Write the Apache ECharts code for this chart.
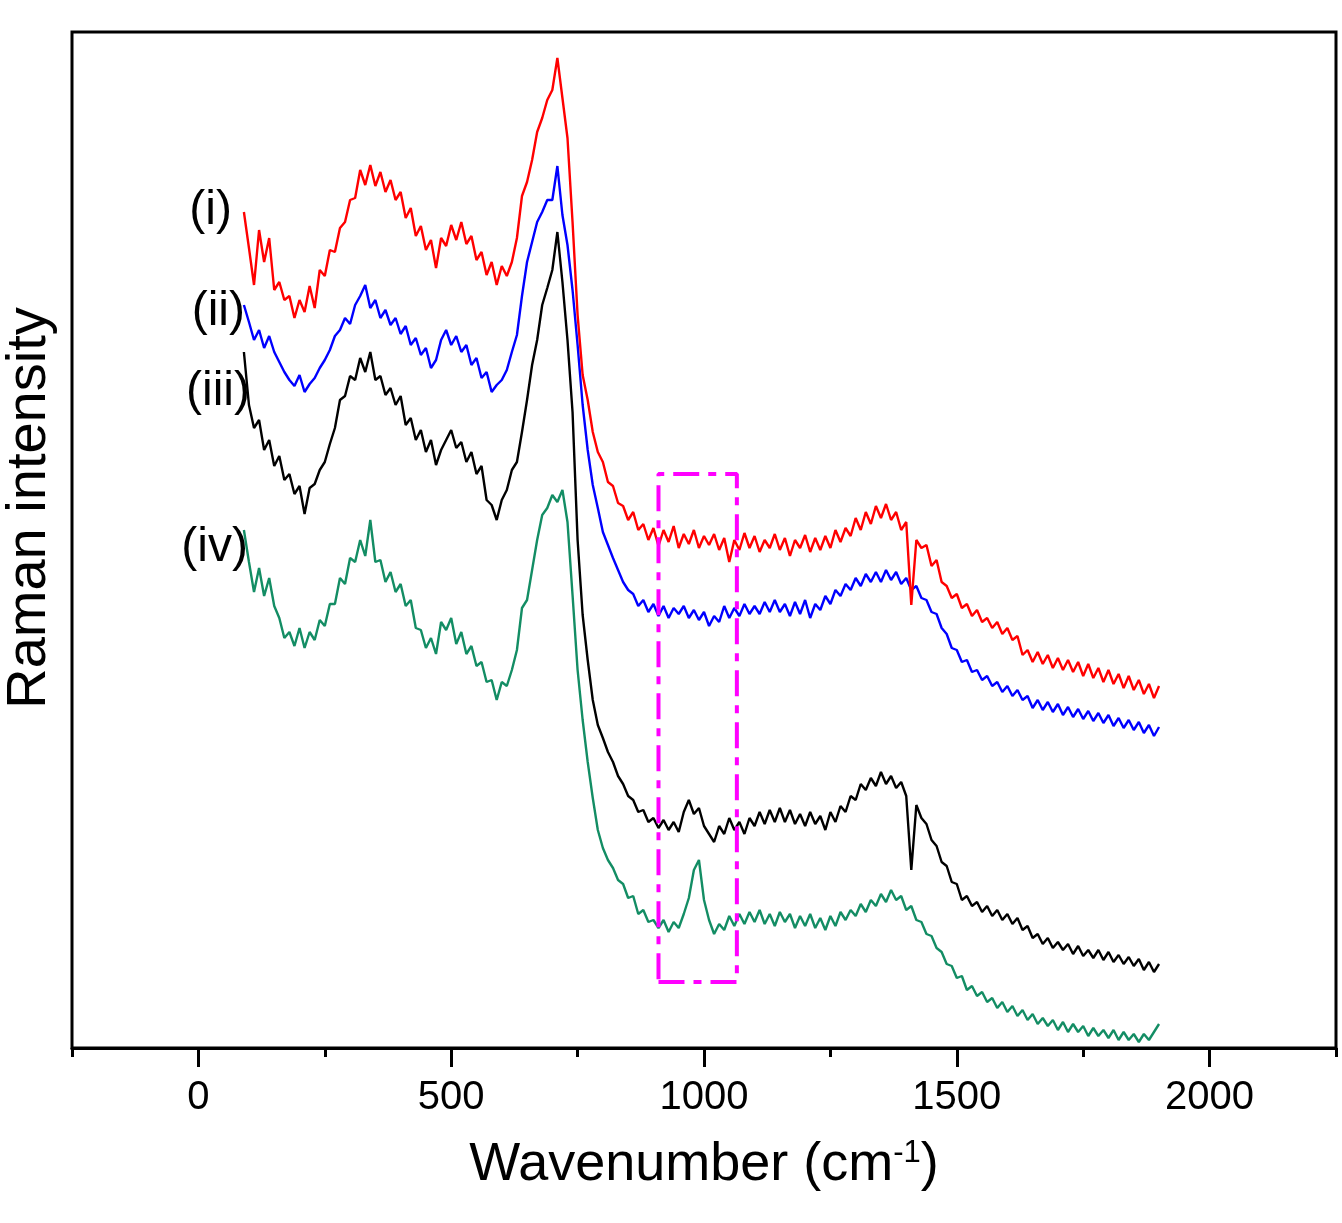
<!DOCTYPE html>
<html>
<head>
<meta charset="utf-8">
<script src="https://cdn.jsdelivr.net/npm/echarts@6/dist/echarts.min.js"></script>
<style>
  html, body { margin: 0; padding: 0; background: #fff; }
  #box { width: 1342px; height: 1223px; }
</style>
</head>
<body>
<div id="box"></div>
<script>
// wavenumber grid: spectra sampled every 10 cm-1 from 90 to 1900
const wnStart = 90;
const wnStep = 10;

// intensities (arbitrary units), one value per grid point
const specI = [
  836, 800, 763, 818, 786, 810, 758, 766, 748, 752,
  730, 748, 736, 762, 740, 778, 772, 798, 796, 820,
  826, 848, 850, 878, 863, 883, 862, 876, 856, 868,
  848, 856, 830, 840, 812, 822, 798, 808, 780, 810,
  802, 823, 808, 826, 804, 812, 788, 796, 773, 786,
  763, 782, 772, 786, 810, 852, 866, 888, 916, 930,
  948, 958, 990, 950, 910, 826, 733, 673, 648, 616,
  596, 586, 566, 562, 545, 542, 528, 536, 518, 524,
  508, 520, 502, 518, 506, 522, 500, 514, 504, 518,
  500, 512, 503, 514, 498, 510, 486, 508, 498, 515,
  500, 512, 496, 508, 500, 514, 498, 510, 492, 508,
  500, 513, 496, 510, 498, 512, 500, 518, 506, 520,
  512, 530, 518, 536, 524, 542, 530, 544, 528, 536,
  518, 526, 443, 508, 500, 503, 482, 488, 466, 462,
  450, 454, 440, 444, 432, 438, 426, 430, 420, 426,
  414, 420, 408, 412, 393, 398, 386, 396, 384, 393,
  380, 390, 378, 388, 376, 386, 372, 384, 370, 380,
  366, 378, 364, 374, 360, 372, 358, 368, 354, 364,
  350, 362
];
const specII = [
  743, 726, 708, 718, 700, 712, 696, 686, 676, 668,
  662, 673, 656, 664, 670, 680, 688, 698, 712, 718,
  730, 724, 743, 752, 763, 740, 748, 730, 738, 723,
  730, 714, 722, 703, 710, 693, 700, 680, 688, 708,
  718, 703, 712, 696, 703, 683, 690, 670, 676, 656,
  663, 668, 678, 696, 713, 752, 786, 806, 826, 836,
  848, 848, 882, 833, 803, 758, 703, 643, 598, 563,
  540, 516, 503, 490, 478, 466, 458, 454, 442, 448,
  436, 444, 432, 442, 430, 440, 434, 442, 430, 438,
  428, 436, 422, 432, 426, 442, 430, 440, 432, 444,
  434, 442, 434, 446, 436, 448, 436, 444, 432, 446,
  434, 448, 430, 444, 438, 452, 444, 458, 452, 464,
  458, 470, 462, 474, 466, 476, 466, 478, 468, 476,
  464, 470, 458, 462, 450, 448, 436, 434, 420, 414,
  400, 398, 386, 388, 376, 378, 368, 372, 362, 366,
  356, 362, 352, 358, 348, 352, 340, 348, 338, 346,
  336, 344, 333, 341, 331, 339, 329, 337, 327, 335,
  325, 333, 322, 330, 320, 328, 318, 326, 315, 323,
  312, 321
];
const specIII = [
  696, 643, 620, 628, 598, 608, 582, 592, 568, 574,
  554, 562, 534, 560, 564, 578, 586, 604, 620, 648,
  652, 672, 668, 690, 676, 696, 668, 672, 653, 660,
  643, 652, 623, 630, 608, 618, 596, 608, 583, 598,
  608, 618, 600, 606, 586, 596, 574, 582, 548, 543,
  528, 548, 558, 578, 586, 616, 648, 683, 708, 743,
  760, 778, 816, 766, 708, 636, 508, 433, 388, 348,
  323, 310, 296, 286, 272, 264, 252, 248, 236, 238,
  226, 230, 220, 228, 218, 226, 216, 236, 248, 234,
  240, 222, 214, 206, 222, 214, 230, 218, 226, 214,
  230, 222, 236, 224, 238, 226, 240, 226, 238, 224,
  234, 222, 236, 224, 232, 218, 236, 226, 242, 236,
  252, 248, 264, 258, 270, 262, 276, 264, 272, 260,
  266, 252, 178, 243, 230, 224, 208, 202, 186, 182,
  166, 164, 148, 152, 142, 146, 136, 142, 132, 138,
  128, 134, 124, 130, 118, 122, 110, 114, 104, 110,
  100, 106, 98, 104, 94, 102, 92, 98, 90, 98,
  88, 96, 86, 93, 84, 91, 82, 89, 78, 86,
  76, 84
];
const specIV = [
  518, 486, 456, 480, 452, 470, 442, 430, 410, 416,
  402, 420, 400, 416, 408, 428, 422, 444, 444, 470,
  464, 490, 486, 508, 492, 528, 486, 488, 466, 476,
  456, 464, 442, 448, 420, 418, 400, 410, 394, 426,
  418, 430, 404, 416, 394, 402, 382, 386, 366, 368,
  348, 366, 362, 378, 398, 440, 448, 478, 508, 533,
  540, 553, 546, 558, 526, 453, 378, 328, 286, 250,
  218, 200, 188, 180, 168, 164, 150, 152, 134, 138,
  126, 128, 120, 128, 116, 126, 120, 134, 150, 178,
  188, 148, 128, 114, 124, 118, 132, 122, 134, 124,
  136, 126, 138, 124, 134, 122, 136, 126, 134, 120,
  132, 122, 134, 120, 130, 118, 132, 122, 136, 128,
  138, 132, 144, 136, 148, 142, 154, 146, 158, 148,
  152, 138, 142, 128, 126, 114, 112, 100, 96, 84,
  82, 70, 72, 58, 62, 52, 56, 46, 50, 40,
  46, 36, 42, 32, 38, 28, 34, 24, 30, 22,
  28, 18, 26, 16, 24, 16, 22, 12, 20, 12,
  18, 10, 18, 8, 16, 8, 14, 6, 14, 8,
  16, 24
];

// dash-dot frame around the ~985 cm-1 band
const boxX = [910, 1065];
const boxY = [66, 574];

const majorTicks = [0, 500, 1000, 1500, 2000];
const minorTicks = [-250, 250, 750, 1250, 1750, 2250];
const labels = ["(i)", "(ii)", "(iii)", "(iv)"];

const font = "'Liberation Sans', Arial, sans-serif";

function pairs(arr) {
  return arr.map((v, i) => [wnStart + i * wnStep, v]);
}

const myChart = echarts.init(document.getElementById("box"));

var option = {
  backgroundColor: "#fff",
  animation: false,
  grid: {
    left: 72,
    right: 6,
    top: 32,
    bottom: 175,
    show: true,
    borderColor: "#000",
    borderWidth: 3,
  },
  xAxis: [
    {
      type: "value",
      min: -250,
      max: 2250,
      position: "bottom",
      splitLine: { show: false },
      axisLine: { show: true, onZero: false, lineStyle: { color: "#000", width: 3 } },
      axisTick: {
        show: true,
        customValues: majorTicks,
        length: 19,
        lineStyle: { color: "#000", width: 3 },
      },
      axisLabel: {
        customValues: majorTicks,
        formatter: (v) => String(v),
        margin: 30,
        color: "#000",
        fontSize: 40,
        fontFamily: font,
      },
      name: "{a|Wavenumber (cm}{s|-1}{a|)}",
      nameLocation: "middle",
      nameGap: 90,
      nameTextStyle: {
        rich: {
          a: { fontSize: 54, fontFamily: font, color: "#000" },
          s: { fontSize: 31, fontFamily: font, color: "#000", verticalAlign: "top", padding: [0, 0, 24, 0] },
        },
      },
    },
    {
      type: "value",
      min: -250,
      max: 2250,
      position: "bottom",
      splitLine: { show: false },
      axisLine: { show: false },
      axisLabel: { show: false },
      axisTick: {
        show: true,
        customValues: minorTicks,
        length: 9,
        lineStyle: { color: "#000", width: 3 },
      },
    },
  ],
  yAxis: {
    type: "value",
    min: 0,
    max: 1016,
    show: false,
  },
  graphic: [
    {
      type: "text",
      x: 30,
      y: 508,
      rotation: Math.PI / 2,
      style: {
        text: "Raman intensity",
        font: "56px " + font,
        fill: "#000",
        align: "center",
        verticalAlign: "middle",
      },
    },
    { type: "text", x: 232, y: 211, style: { text: labels[0], font: "48px " + font, fill: "#000", align: "right", verticalAlign: "middle" } },
    { type: "text", x: 245, y: 312, style: { text: labels[1], font: "48px " + font, fill: "#000", align: "right", verticalAlign: "middle" } },
    { type: "text", x: 250, y: 392, style: { text: labels[2], font: "48px " + font, fill: "#000", align: "right", verticalAlign: "middle" } },
    { type: "text", x: 248, y: 548, style: { text: labels[3], font: "48px " + font, fill: "#000", align: "right", verticalAlign: "middle" } },
  ],
  series: [
    {
      name: "iv",
      type: "line",
      data: pairs(specIV),
      showSymbol: false,
      lineStyle: { color: "#138d64", width: 2.4 },
    },
    {
      name: "iii",
      type: "line",
      data: pairs(specIII),
      showSymbol: false,
      lineStyle: { color: "#000000", width: 2.4 },
    },
    {
      name: "ii",
      type: "line",
      data: pairs(specII),
      showSymbol: false,
      lineStyle: { color: "#0000ff", width: 2.4 },
    },
    {
      name: "i",
      type: "line",
      data: pairs(specI),
      showSymbol: false,
      lineStyle: { color: "#ff0000", width: 2.4 },
    },
    {
      name: "box",
      type: "line",
      data: [
        [boxX[0], boxY[0]],
        [boxX[1], boxY[0]],
        [boxX[1], boxY[1]],
        [boxX[0], boxY[1]],
        [boxX[0], boxY[0]],
      ],
      showSymbol: false,
      lineStyle: { color: "#ff00ff", width: 4, type: [26, 9, 8, 9] },
      z: 5,
    },
  ],
};

myChart.setOption(option);
</script>
</body>
</html>
